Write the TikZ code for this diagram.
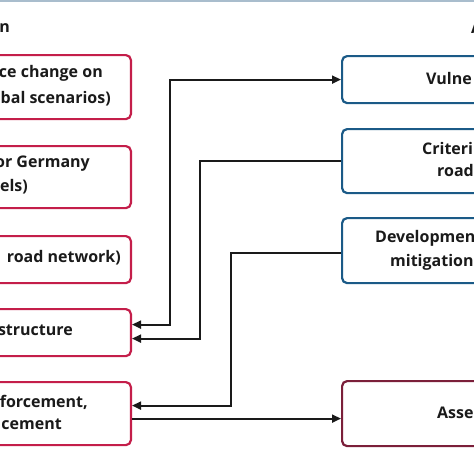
\documentclass[tikz,border=0pt]{standalone}
\usepackage{fontspec}
\setmainfont{Open Sans}
\usetikzlibrary{arrows.meta}
\definecolor{crimson}{HTML}{C41E4A}
\definecolor{steel}{HTML}{1B5A87}
\definecolor{wine}{HTML}{7B1F3A}
\definecolor{rule}{HTML}{A9BDCD}
\definecolor{ink}{HTML}{1A1A1A}
\tikzset{
    box/.style={draw, line width=2.2pt, rounded corners=5pt, fill=white, inner sep=0pt},
    lbox/.style={box, draw=crimson, anchor=north east, minimum width=320pt},
    rbox/.style={box, draw=steel, anchor=north west, minimum width=320pt},
    txt/.style={text=ink, font=\bfseries\fontsize{16}{18}\selectfont, inner sep=0pt},
    tip/.style={Triangle[length=9pt,width=8pt]},
    link/.style={draw=ink, line width=1.8pt, -{Triangle[length=9pt,width=8pt]}}
}
\begin{document}
\begin{tikzpicture}[x=1pt, y=-1pt]
    \useasboundingbox (0,0) rectangle (474,474);
    \clip (0,0) rectangle (474,474);
    \def\lx{132}
    \def\rx{341}
    % top rule and cut-off headings
    \fill[rule] (0,0) rectangle (474,2);
    \node[txt, anchor=east] (headl) at (10,28) {n};
    \node[txt, anchor=west] (headr) at (471,28) {A};
    % left column
    \node[lbox, minimum height=64pt] (impact) at (\lx,54) {};
    \node[lbox, minimum height=62pt] (germany) at (\lx,145) {};
    \node[lbox, minimum height=47pt] (network) at (\lx,235) {};
    \node[lbox, minimum height=47pt] (struct) at (\lx,308) {};
    \node[lbox, minimum height=63pt] (reinf) at (\lx,381) {};
    \node[txt, anchor=east] (impact1) at (103,73) {ce change on};
    \node[txt, anchor=east] (impact2) at (111,99) {bal scenarios)};
    \node[txt, anchor=east] (germany1) at (90,164) {or Germany};
    \node[txt, anchor=east] (germany2) at (28,187) {els)};
    \node[txt, anchor=east] (network1) at (121,258) {road network)};
    \node[txt, anchor=east] (struct1) at (73,330) {structure};
    \node[txt, anchor=east] (reinf1) at (88,402) {forcement,};
    \node[txt, anchor=east] (reinf2) at (62,424) {cement};
    % right column
    \node[rbox, minimum height=47pt] (vul) at (\rx,55) {};
    \node[rbox, minimum height=64pt] (crit) at (\rx,128) {};
    \node[rbox, minimum height=65pt] (devel) at (\rx,217) {};
    \node[rbox, draw=wine, minimum height=65pt] (assess) at (\rx,380) {};
    \node[txt, anchor=west] (vul1) at (426,78) {Vulne};
    \node[txt, anchor=west] (crit1) at (422,148) {Criteri};
    \node[txt, anchor=west] (crit2) at (437,170) {road};
    \node[txt, anchor=west] (devel1) at (375,238) {Developmen};
    \node[txt, anchor=west] (devel2) at (390,262) {mitigation};
    \node[txt, anchor=west] (assess1) at (437,413) {Asse};
    % connectors
    \draw[link, {Triangle[length=9pt,width=8pt]}-{Triangle[length=9pt,width=8pt]}] ([yshift=8pt]struct.east) -- ++(38,0) |- (vul.west);
    \draw[link] (crit.west) -- ++(-141,0) |- ([yshift=-6pt]struct.east);
    \draw[link] ([yshift=-2pt]devel.west) -- ++(-110,0) |- ([yshift=8pt]reinf.east);
    \draw[link] ([yshift=-5pt]reinf.east) -- ([yshift=-5pt]assess.west);
\end{tikzpicture}
\end{document}
